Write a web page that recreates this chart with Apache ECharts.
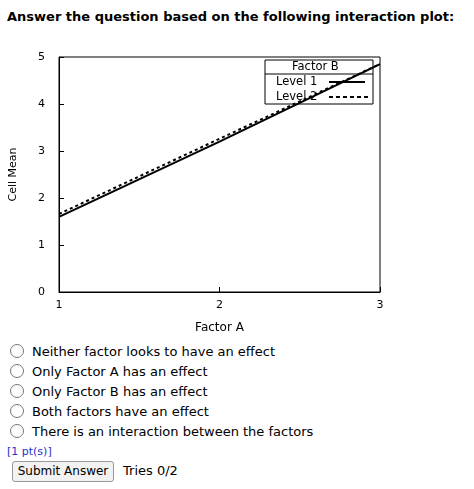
<!DOCTYPE html><html><head><meta charset="utf-8">
<script src="https://cdn.jsdelivr.net/npm/echarts@6/dist/echarts.min.js"></script>
<style>
body{margin:0;font-family:"DejaVu Sans",sans-serif;font-size:13px;background:#fff;}
#t{position:absolute;left:7px;top:9px;font-weight:bold;font-size:13px;}
#c{position:absolute;left:0;top:40px;width:474px;height:300px;}
.o{position:absolute;left:10px;height:18px;line-height:18px;}
.o span{display:inline-block;width:12px;height:12px;border:1px solid #777;border-radius:50%;vertical-align:-2px;margin-right:8px;}
#p{position:absolute;left:7px;top:445px;color:#2233cc;font-size:11px;}
#b{position:absolute;left:12px;top:461px;width:100px;height:19px;border:1px solid #999;border-radius:3px;background:#f2f2f2;text-align:center;line-height:19px;font-size:12px;}
#tr{position:absolute;left:123px;top:463px;}
</style></head><body>
<div id="t">Answer the question based on the following interaction plot:</div>
<div id="c"></div>
<div id="opts"></div>
<div id="p">[1 pt(s)]</div>
<div id="b">Submit Answer</div>
<div id="tr">Tries 0/2</div>
<script>
const factorA=[1,2,3];
const level1=[1.6,3.2,4.85];
const level2=[1.66,3.26,4.85];
const seriesNames=['Level 1','Level 2'];
const options=['Neither factor looks to have an effect','Only Factor A has an effect','Only Factor B has an effect','Both factors have an effect','There is an interaction between the factors'];
const od=document.getElementById('opts');
options.forEach((s,i)=>{const d=document.createElement('div');d.className='o';d.style.top=(343+i*20)+'px';d.innerHTML='<span></span>'+s;od.appendChild(d);});
const ch=echarts.init(document.getElementById('c'));
const ax={color:'#000',fontFamily:'DejaVu Sans',fontSize:11};
const f='11.5px "DejaVu Sans"';
ch.setOption({animation:false,
grid:{left:56,top:17,width:324,height:235,show:true,borderColor:'#000',borderWidth:1},
xAxis:{type:'value',min:1,max:3,interval:1,name:'Factor A',nameLocation:'middle',nameGap:30,nameTextStyle:{...ax,fontSize:12},
 axisLabel:{...ax,margin:8},axisTick:{inside:true,length:5,lineStyle:{color:'#000'}},axisLine:{lineStyle:{color:'#000'}},splitLine:{show:false}},
yAxis:{type:'value',min:0,max:5,interval:1,name:'Cell Mean',nameLocation:'middle',nameGap:40,nameTextStyle:ax,
 axisLabel:{...ax,margin:14},axisTick:{inside:true,length:5,lineStyle:{color:'#000'}},axisLine:{lineStyle:{color:'#000'}},splitLine:{show:false}},
graphic:[
 {type:'rect',z:100,shape:{x:265,y:20,width:108,height:44},style:{fill:'#fff',stroke:'#000',lineWidth:1}},
 {type:'line',z:101,shape:{x1:265,y1:34,x2:373,y2:34},style:{stroke:'#000',lineWidth:1}},
 {type:'text',z:101,x:292,y:21,style:{text:'Factor B',font:f,fill:'#000'}},
 {type:'text',z:101,x:276,y:36,style:{text:seriesNames[0],font:f,fill:'#000'}},
 {type:'text',z:101,x:276,y:51,style:{text:seriesNames[1],font:f,fill:'#000'}},
 {type:'line',z:101,shape:{x1:329,y1:42,x2:365,y2:42},style:{stroke:'#000',lineWidth:2}},
 {type:'line',z:101,shape:{x1:329,y1:57,x2:368,y2:57},style:{stroke:'#000',lineWidth:2,lineDash:[4,3]}}
],
series:[
 {name:seriesNames[0],type:'line',z:200,data:factorA.map((a,i)=>[a,level1[i]]),symbol:'none',lineStyle:{color:'#000',width:2}},
 {name:seriesNames[1],type:'line',z:200,data:factorA.map((a,i)=>[a,level2[i]]),symbol:'none',lineStyle:{color:'#000',width:2,type:[3,3]}}
]});
</script></body></html>
